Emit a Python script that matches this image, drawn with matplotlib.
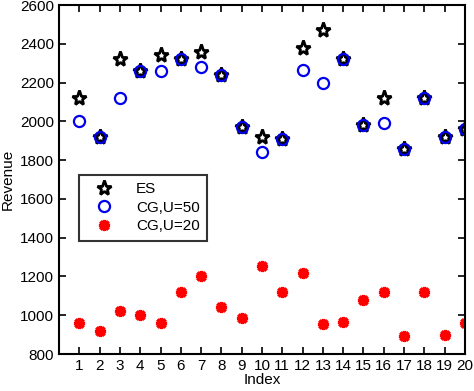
import numpy as np
import matplotlib
matplotlib.use('Agg')
import matplotlib.pyplot as plt

plt.rcParams['font.family'] = ['Liberation Sans', 'DejaVu Sans']

# data
index = np.arange(1, 21)
es = [2120, 1920, 2320, 2260, 2340, 2320, 2360, 2240, 1970, 1920,
      1910, 2380, 2470, 2320, 1980, 2120, 1860, 2120, 1920, 1960]
cg50 = [2000, 1920, 2120, 2260, 2260, 2320, 2280, 2240, 1970, 1840,
        1910, 2265, 2200, 2320, 1980, 1990, 1860, 2120, 1920, 1960]
cg20 = [960, 920, 1020, 1000, 960, 1120, 1200, 1040, 985, 1255,
        1120, 1220, 955, 965, 1080, 1120, 895, 1120, 900, 960]

fig = plt.figure(figsize=(4.74, 3.91), dpi=100)
ax = fig.add_axes([0.1245, 0.0946, 0.8565, 0.8924])

ax.plot(index, es, linestyle='none', marker='*', markersize=11,
        markerfacecolor='white', markeredgecolor='black', markeredgewidth=2.0, label='ES')
ax.plot(index, cg50, linestyle='none', marker='o', markersize=8,
        markerfacecolor='none', markeredgecolor='#0000ee', markeredgewidth=1.6, label='CG,U=50')
ax.plot(index, cg20, linestyle='none', marker=(8, 2, 0), markersize=8,
        markeredgecolor='red', markeredgewidth=2.4, color='red', label='CG,U=20')

ax.set_xlim(0, 20)
ax.set_ylim(800, 2600)
ax.set_xticks(index)
ax.set_yticks(np.arange(800, 2601, 200))
ax.tick_params(direction='in', length=5, width=1.2, labelsize=11, top=True, right=True)
for s in ax.spines.values():
    s.set_linewidth(1.5)

ax.set_xlabel('Index', fontsize=11, labelpad=0)
ax.set_ylabel('Revenue', fontsize=11, labelpad=4)

leg = ax.legend(loc='lower left', bbox_to_anchor=(0.05, 0.324, 0.315, 0.192), mode='expand',
                borderaxespad=0, fontsize=11, frameon=True, fancybox=False, edgecolor='black',
                borderpad=0.5, labelspacing=0.3, handlelength=2.2, handletextpad=1.0)
leg.get_frame().set_linewidth(1.5)

plt.savefig('out.png', dpi=100)
